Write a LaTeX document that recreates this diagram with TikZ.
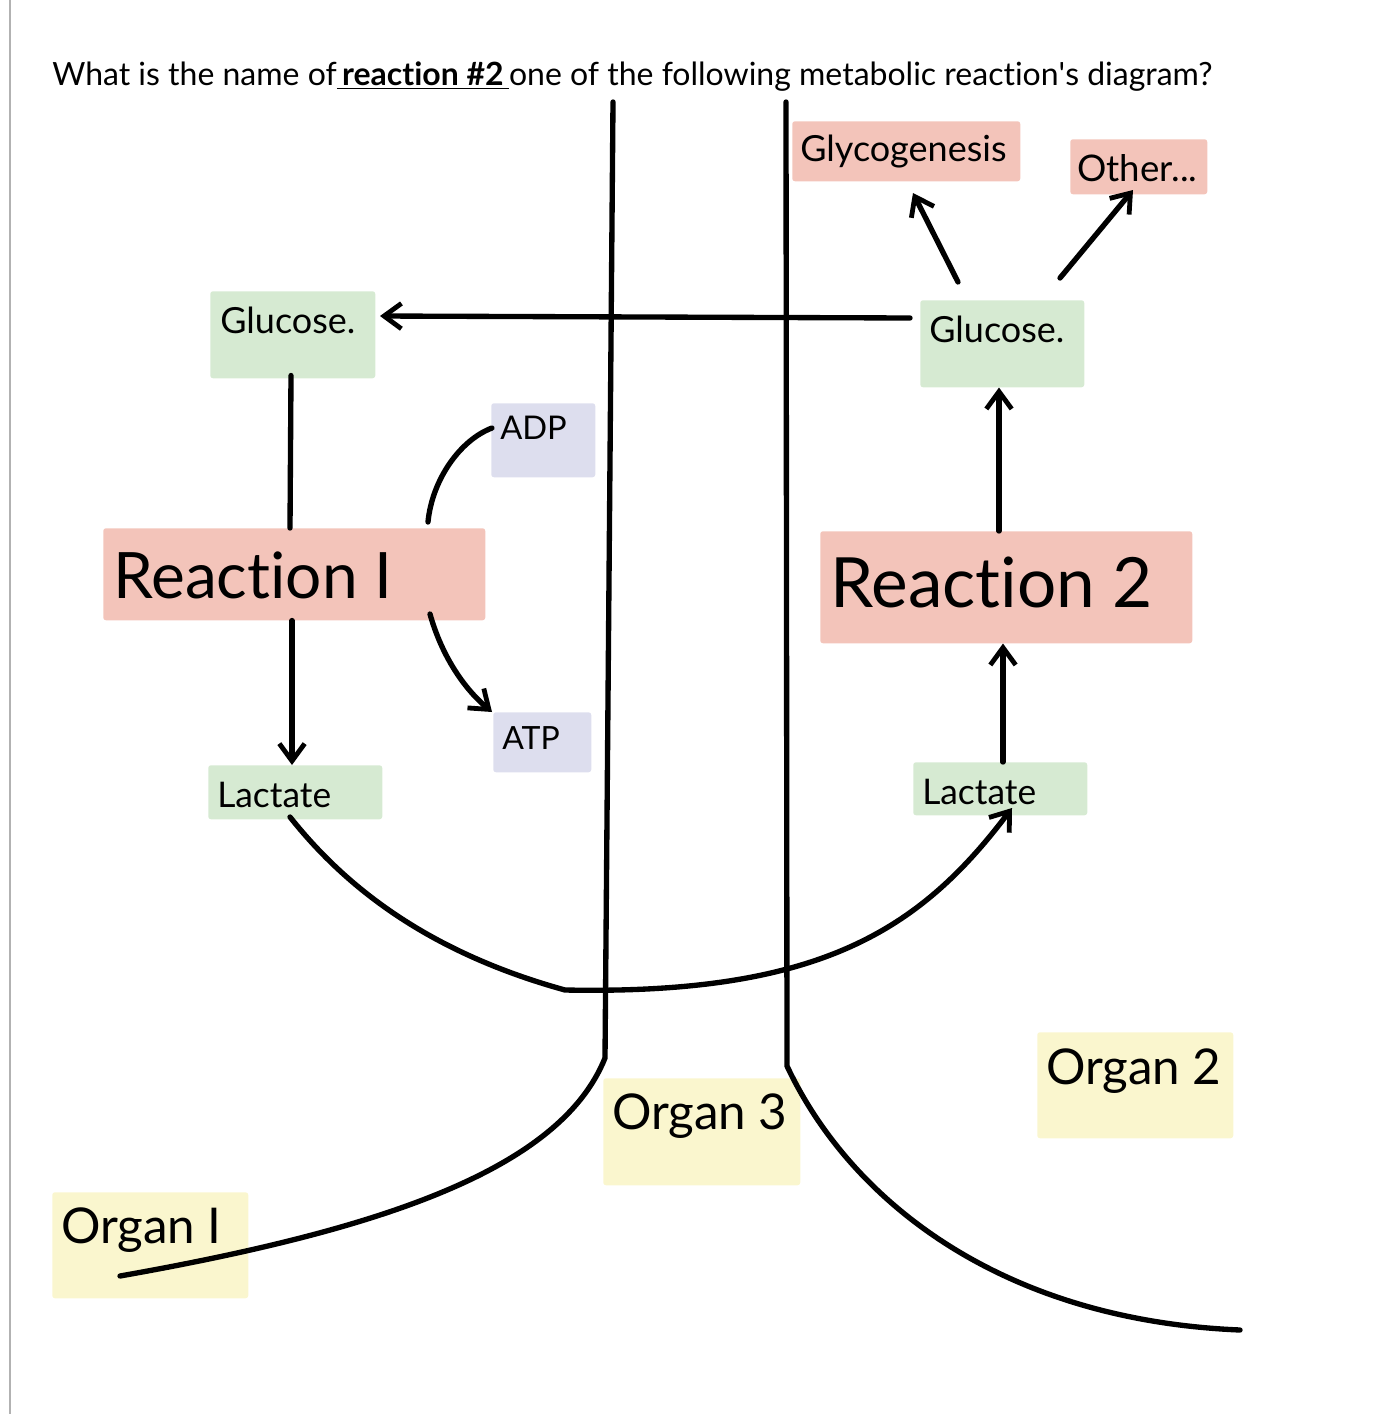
\documentclass[tikz,border=0pt]{standalone}
\usepackage{fontspec}
\setmainfont{Lato}[Ligatures=NoCommon]
\usetikzlibrary{arrows.meta}
\definecolor{pk}{RGB}{243,196,186}
\definecolor{gr}{RGB}{214,234,210}
\definecolor{lv}{RGB}{221,222,238}
\definecolor{yl}{RGB}{250,246,206}
\newcommand{\bx}[9]{%
 \node[box,fill=#6,minimum width=#4*0.75pt,minimum height=#5*0.75pt] (#1) at (#2,#3) {};
 \node[anchor=west,inner sep=0pt,font=\fontsize{#7}{#7}\selectfont] (#1t) at (#8) {#9};}
\begin{document}
\begin{tikzpicture}[x=0.75pt,y=-0.75pt,
 box/.style={anchor=north west,rounded corners=2pt,draw=none,inner sep=0pt},
 ln/.style={line width=4pt,black,line cap=round},
 ar/.style={ln,-{Straight Barb[length=13pt,width=19pt,line width=3.6pt]}}]
\useasboundingbox (0,0) rectangle (1390,1414);
\draw[gray!60,line width=1pt] (10,0) -- (10,1414);
\node[anchor=west,inner sep=0pt,font=\fontsize{24}{26}\selectfont] (title) at (52,77) {What is the name of\underline{\,\textbf{reaction \#2}\,}one of the following metabolic reaction\textquotesingle s diagram?};
\bx{gly}{792}{121}{228}{60}{pk}{27}{800,152}{Glycogenesis}
\bx{oth}{1070}{139}{137}{55}{pk}{27.5}{1077,168}{Other...}
\bx{gl1}{210}{291}{165}{87}{gr}{27}{220,320}{Glucose.}
\bx{gl2}{920}{300}{164}{87}{gr}{27}{929,329}{Glucose.}
\bx{adp}{491}{403}{104}{74}{lv}{24.5}{500,428}{ADP}
\bx{r1}{103}{528}{382}{92}{pk}{48}{113,575}{Reaction I}
\bx{r2}{820}{531}{372}{112}{pk}{52}{830,582}{Reaction 2}
\bx{atp}{493}{712}{98}{60}{lv}{24}{502,738}{ATP}
\bx{la1}{208}{765}{174}{54}{gr}{26.5}{217,795}{Lactate}
\bx{la2}{913}{762}{174}{53}{gr}{26.5}{922,792}{Lactate}
\bx{o3}{603}{1078}{197}{107}{yl}{37}{612,1116}{Organ 3}
\bx{o2}{1037}{1032}{196}{106}{yl}{37}{1046,1071}{Organ 2}
\bx{o1}{52}{1192}{196}{106}{yl}{37}{61,1230}{Organ I}
% membranes
\coordinate (m1t) at (613,102); \coordinate (m1b) at (605,1058);
\coordinate (m2t) at (786,102); \coordinate (m2b) at (787,1066);
\coordinate (e1) at (120,1276); \coordinate (e2) at (1240,1330);
\draw[ln] (m1t) -- (m1b) .. controls (560,1170) and (380,1230) .. (e1);
\draw[ln] (m2t) -- (m2b) .. controls (850,1200) and (1000,1320) .. (e2);
% arrows
\coordinate (hs) at (910,318); \coordinate (he) at (380,316);
\draw[ar] (hs) -- (he);
\draw[ln] (gl1.south -| 291,0) ++(0,-3) -- (r1.north -| 290,0);
\draw[ar] (r1.south -| 292,0) -- (la1.north -| 292,0);
\coordinate (a1) at (428,522); \coordinate (a2) at (492,428);
\draw[ln] (a1) .. controls (432,480) and (460,440) .. (a2);
\coordinate (t1) at (430,614); \coordinate (t2) at (492,712);
\draw[ar] (t1) .. controls (440,650) and (460,685) .. (t2);
\coordinate (l1) at (290,817); \coordinate (l2) at (1012,808);
\draw[ar] (l1) .. controls (340,880) and (420,950) .. (565,990) .. controls (820,995) and (920,930) .. (l2);
\draw[ar] (la2.north -| 1003,0) -- (r2.south -| 1003,0);
\draw[ar] (r2.north -| 999,0) -- (gl2.south -| 999,0);
\coordinate (g1) at (958,282); \coordinate (g2) at (913,193);
\draw[ar] (g1) -- (g2);
\coordinate (p1) at (1060,278); \coordinate (p2) at (1133,190);
\draw[ar] (p1) -- (p2);
\end{tikzpicture}
\end{document}
